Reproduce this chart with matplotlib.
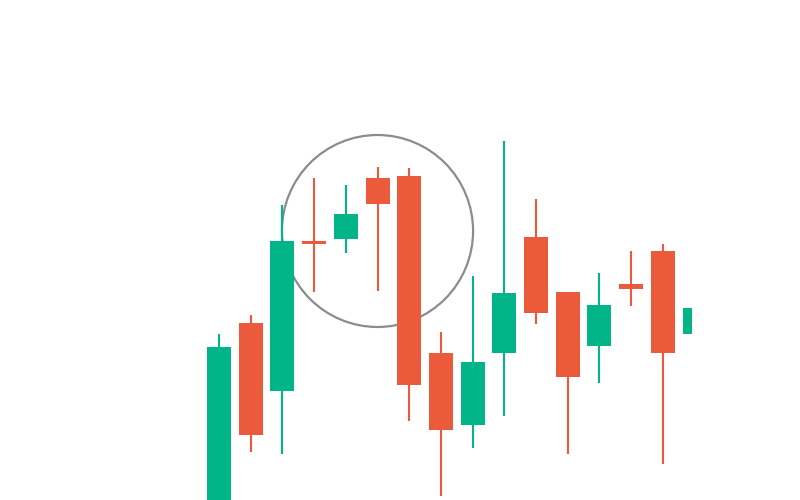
import matplotlib.pyplot as plt
from matplotlib.patches import Ellipse
import numpy as np

# OHLC values (no axis shown, arbitrary price units)
opens = [98.0, 117.7, 110.9, 125.9, 126.1, 132.2, 132.4, 114.7,
         107.5, 114.7, 126.3, 120.8, 115.4, 121.6, 124.9, 116.6]
highs = [116.6, 118.5, 129.5, 132.2, 131.5, 133.3, 133.2, 116.8,
         122.4, 135.9, 130.1, 120.8, 122.7, 124.9, 125.6, 119.2]
lows = [96.0, 104.8, 104.6, 120.8, 124.7, 120.9, 107.9, 100.4,
        105.2, 108.4, 117.6, 104.6, 111.7, 119.4, 103.6, 116.6]
closes = [115.3, 106.5, 125.9, 125.6, 128.6, 129.6, 111.5, 107.0,
          113.8, 120.7, 118.7, 112.3, 119.5, 121.1, 114.7, 119.2]

up_color = '#02b589'
down_color = '#ea5a3b'

fig = plt.figure(figsize=(8, 5), dpi=100)
# axes end where the last candle gets cut off
ax = fig.add_axes([0, 0, 692 / 800, 1])

x = np.arange(len(opens))
o = np.array(opens)
c = np.array(closes)
colors = [up_color if cc >= oo else down_color for oo, cc in zip(o, c)]

# wicks
ax.vlines(x, lows, highs, colors=colors, linewidth=1.5, zorder=2)

# bodies (min height so dojis still show)
bottoms = np.minimum(o, c)
heights = np.maximum(np.abs(c - o), 0.3)
ax.bar(x, heights, bottom=bottoms, width=0.757, color=colors,
       linewidth=0, zorder=3)

# circle around the top of the move
ax.add_patch(Ellipse((5.0, 126.9), width=6.03, height=19.2,
                     fill=False, edgecolor='#8c8c90', linewidth=1.6, zorder=1))

ax.set_xlim(-6.909, 14.921)
ax.set_ylim(100, 150)
ax.axis('off')

fig.savefig('out.png', dpi=100, facecolor='white')
